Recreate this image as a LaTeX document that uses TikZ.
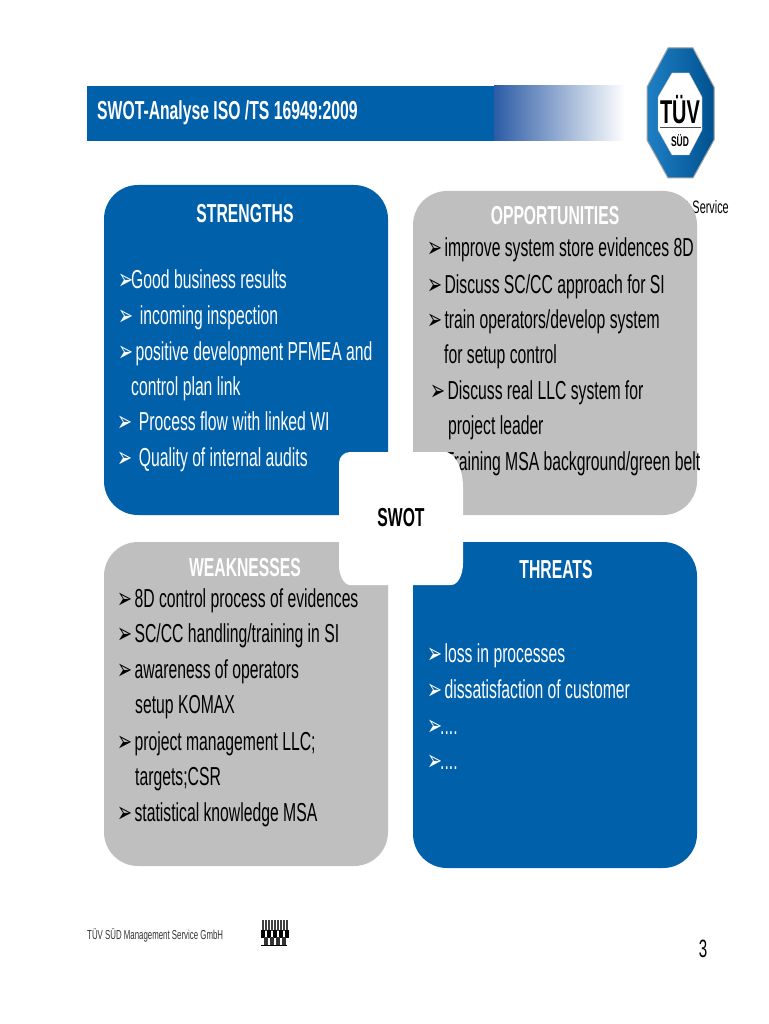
\documentclass[tikz,border=0pt]{standalone}
\usepackage{fontspec}
\setmainfont[FakeStretch=0.605]{Liberation Sans}
\newfontfamily\bulletfont[FakeStretch=0.62]{DejaVu Sans}
\usetikzlibrary{shapes,arrows,positioning,fit,backgrounds}
\definecolor{tuvblue}{HTML}{0060A9}
\definecolor{tuvgray}{HTML}{BFBFBF}
\definecolor{fadeblue}{HTML}{2C5CA6}
\definecolor{ringblue}{HTML}{1F7FC4}
\newcommand{\bul}{\makebox[13pt][l]{\bulletfont\fontsize{29}{29}\selectfont\raisebox{-1.5pt}{➢}}}
\tikzset{
  quadbox/.style={rounded corners=34pt, draw=none},
  headtext/.style={font=\fontsize{26}{26}\selectfont\bfseries, text=white, inner sep=0pt},
  itemtext/.style={font=\fontsize{26}{26}\selectfont, text=black, anchor=base west, inner sep=0pt},
  bluetext/.style={itemtext, text=white}
}
\begin{document}
\begin{tikzpicture}[x=1pt, y=-1pt]
	\useasboundingbox (0,0) rectangle (768,1024);
	% Page
	\fill[white] (0,0) rectangle (768,1024);

	% Title bar
	\fill[tuvblue] (87,86) rectangle (494,141);
	\fill[left color=fadeblue, right color=white, draw=none] (494,86) rectangle (625,141);
	\node[font=\fontsize{26}{26}\selectfont\bfseries, text=white, anchor=west, inner sep=0pt] (title) at (97,113) {SWOT-Analyse ISO /TS 16949:2009};

	% Logo
	\fill[left color=ringblue, right color=tuvblue!85!black, draw=gray!70, line width=1pt] (668,48) -- (693,48) -- (714,87) -- (714,140) -- (693,178) -- (668,178) -- (647,140) -- (647,87) -- cycle;
	\fill[white, draw=gray!50] (672,73) -- (689,73) -- (702,97) -- (702,130) -- (689,155) -- (672,155) -- (658,130) -- (658,97) -- cycle;
	\node[font=\fontsize{33}{33}\selectfont\bfseries, inner sep=0pt] (logotuv) at (680,110) {TÜV};
	\draw[black!70, line width=0.8pt] (660,127) -- (701,127);
	\node[font=\fontsize{14}{14}\selectfont\bfseries, inner sep=0pt] (logosud) at (680,141) {SÜD};
	\node[font=\fontsize{18}{18}\selectfont, anchor=east, inner sep=0pt] (service) at (729,207) {t Service};

	% Boxes
	\fill[tuvblue, quadbox] (104,185) rectangle (388,515);
	\fill[tuvgray, quadbox] (413,191) rectangle (697,515);
	\fill[tuvgray, quadbox] (104,542) rectangle (388,866);
	\fill[tuvblue, quadbox] (413,542) rectangle (697,868);

	% Strengths
	\node[headtext] (strengths) at (245,214) {STRENGTHS};
	\node[bluetext] (s1) at (118,288) {\bul Good business results};
	\node[bluetext] (s2) at (118,324) {\bul\ \ incoming inspection};
	\node[bluetext] (s3) at (118,360) {\bul\ positive development PFMEA and};
	\node[bluetext] (s4) at (131,395) {control plan link};
	\node[bluetext] (s5) at (117,430) {\bul\ \ Process flow with linked WI};
	\node[bluetext] (s6) at (117,466) {\bul\ \ Quality of internal audits};

	% Opportunities
	\node[headtext] (opportunities) at (555,216) {OPPORTUNITIES};
	\node[itemtext] (o1) at (427,256) {\bul\ improve system store evidences 8D};
	\node[itemtext] (o2) at (427,293) {\bul\ Discuss SC/CC approach for SI};
	\node[itemtext] (o3) at (427,328) {\bul\ train operators/develop system};
	\node[itemtext] (o4) at (444,363) {for setup control};
	\node[itemtext] (o5) at (430,399) {\bul\ Discuss real LLC system for};
	\node[itemtext] (o6) at (448,434) {project leader};
	\node[itemtext] (o7) at (427,470) {\bul\ Training MSA background/green belt};

	% Weaknesses
	\node[headtext] (weaknesses) at (245,568) {WEAKNESSES};
	\node[itemtext] (w1) at (117,607) {\bul\ 8D control process of evidences};
	\node[itemtext] (w2) at (117,642) {\bul\ SC/CC handling/training in SI};
	\node[itemtext] (w3) at (117,678) {\bul\ awareness of operators};
	\node[itemtext] (w4) at (135,713) {setup KOMAX};
	\node[itemtext] (w5) at (117,750) {\bul\ project management LLC;};
	\node[itemtext] (w6) at (135,785) {targets;CSR};
	\node[itemtext] (w7) at (117,821) {\bul\ statistical knowledge MSA};

	% Threats
	\node[headtext] (threats) at (556,570) {THREATS};
	\node[bluetext] (t1) at (427,662) {\bul\ loss in processes};
	\node[bluetext] (t2) at (427,698) {\bul\ dissatisfaction of customer};
	\node[bluetext] (t3) at (427,734) {\bul....};
	\node[bluetext] (t4) at (427,769) {\bul....};

	% Centre
	\fill[white] (350,452) -- (447,452) .. controls (457,456) and (463,470) .. (463,488) -- (463,563) .. controls (463,575) and (458,585) .. (451,585) -- (350,585) .. controls (344,585) and (339,575) .. (339,566) -- (339,463) .. controls (339,457) and (344,452) .. (350,452) -- cycle;
	\node[font=\fontsize{26}{26}\selectfont\bfseries, inner sep=0pt] (swot) at (401,518) {SWOT};

	% Footer
	\node[font=\fontsize{13}{13}\selectfont, text=black!80, anchor=west, inner sep=0pt] (footer) at (87,935) {TÜV SÜD Management Service GmbH};
	\foreach \x in {262,265,...,286} \fill[black!75] (\x,920) rectangle (\x+1.5,931);
	\foreach \x in {261,267,...,285} \fill[black] (\x,930) rectangle (\x+4,938);
	\foreach \x in {264,270,...,282} \fill[black!80] (\x,937) rectangle (\x+4,945);
	\draw[black] (261,945) -- (287,945);
	\node[font=\fontsize{25}{25}\selectfont, inner sep=0pt] (pagenum) at (703,949) {3};
\end{tikzpicture}
\end{document}
